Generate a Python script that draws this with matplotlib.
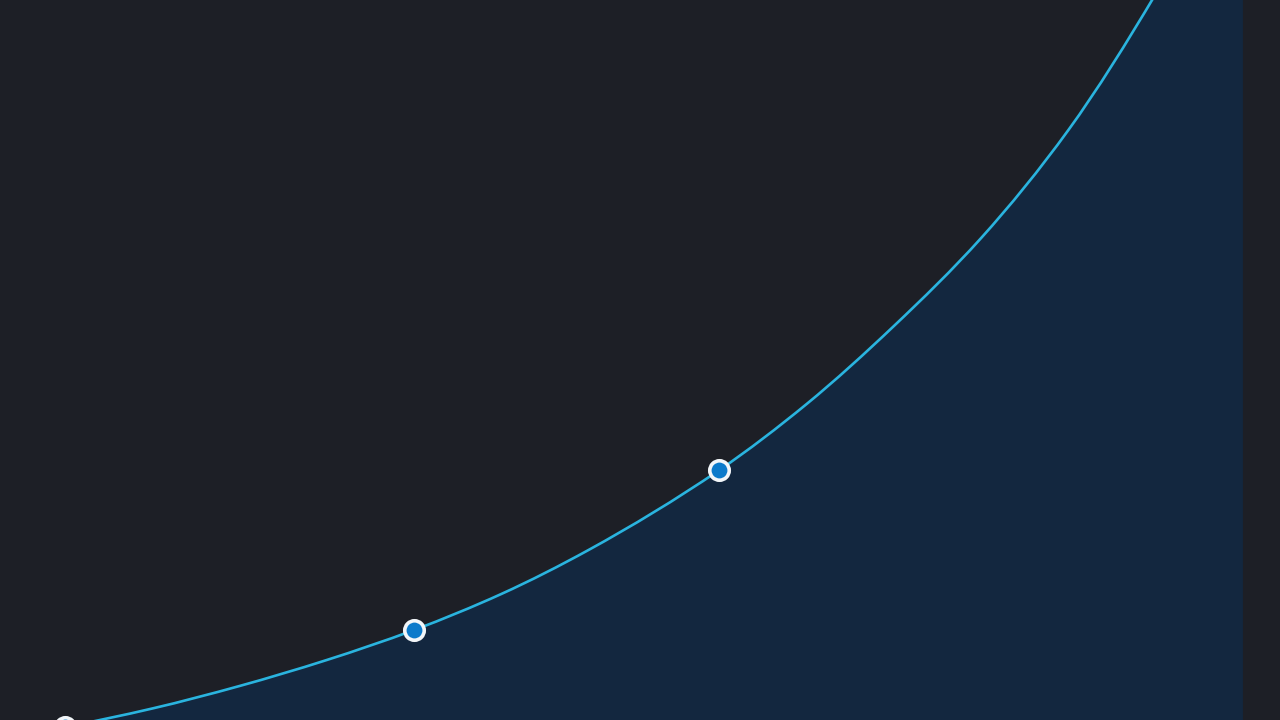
import numpy as np
import matplotlib
matplotlib.use("Agg")
import matplotlib.pyplot as plt
from matplotlib.path import Path
from matplotlib.patches import PathPatch

# 曲線の値（画像から読み取り、最後の点は画面の上にはみ出している）
curve_x = [2.0, 3.0, 4.0, 5.0, 6.0, 7.0, 8.0, 9.5, 10.5, 11.5, 12.5, 13.5, 14.5, 15.5]
curve_y = [9.3, 11.15, 13.4, 16.0, 19.0, 22.6, 27.0, 35.0, 41.6, 49.4, 58.2, 69.0, 82.6, 98.5]

# 丸印のついている点
marker_x = [2.0, 6.0, 9.5]
marker_y = [9.3, 19.0, 35.0]

BG = "#1d1f26"
FILL = "#13273f"
LINE = "#2ab4df"
DOT = "#0b7acb"


def pchip_slopes(x, y):
    # 単調な3次補間の接線（Fritsch-Carlson）
    x = np.asarray(x, float)
    y = np.asarray(y, float)
    h = np.diff(x)
    d = np.diff(y) / h
    m = np.zeros_like(x)
    for i in range(1, len(x) - 1):
        if d[i - 1] * d[i] <= 0:
            m[i] = 0
        else:
            w1 = 2 * h[i] + h[i - 1]
            w2 = h[i] + 2 * h[i - 1]
            m[i] = (w1 + w2) / (w1 / d[i - 1] + w2 / d[i])
    m[0] = ((2 * h[0] + h[1]) * d[0] - h[0] * d[1]) / (h[0] + h[1])
    m[-1] = ((2 * h[-1] + h[-2]) * d[-1] - h[-1] * d[-2]) / (h[-1] + h[-2])
    return m


def smooth_path(x, y):
    # ベジェ曲線でなめらかにつなぐ
    m = pchip_slopes(x, y)
    verts = [(x[0], y[0])]
    codes = [Path.MOVETO]
    for i in range(len(x) - 1):
        h = x[i + 1] - x[i]
        verts += [(x[i] + h / 3, y[i] + m[i] * h / 3),
                  (x[i + 1] - h / 3, y[i + 1] - m[i + 1] * h / 3),
                  (x[i + 1], y[i + 1])]
        codes += [Path.CURVE4] * 3
    return verts, codes


fig = plt.figure(figsize=(12.8, 7.2), dpi=100)
fig.patch.set_facecolor(BG)
ax = fig.add_axes([0, 0, 1, 1])
ax.set_facecolor(BG)
ax.set_xlim(1.255, 15.925)
ax.set_ylim(10, 82)
ax.axis("off")

verts, codes = smooth_path(curve_x, curve_y)

# 塗りつぶし
bottom = 0
fill_verts = verts + [(curve_x[-1], bottom), (curve_x[0], bottom), (curve_x[0], curve_y[0])]
fill_codes = codes + [Path.LINETO, Path.LINETO, Path.CLOSEPOLY]
ax.add_patch(PathPatch(Path(fill_verts, fill_codes), facecolor=FILL, edgecolor="none", zorder=1))

# 線
ax.add_patch(PathPatch(Path(verts, codes), facecolor="none", edgecolor=LINE, lw=1.9, zorder=2))

# 点
ax.plot(marker_x, marker_y, "o", ms=14, mfc=DOT, mec="#f2f6f9", mew=2.6, zorder=3)

plt.savefig("out.png", dpi=100, facecolor=BG)
